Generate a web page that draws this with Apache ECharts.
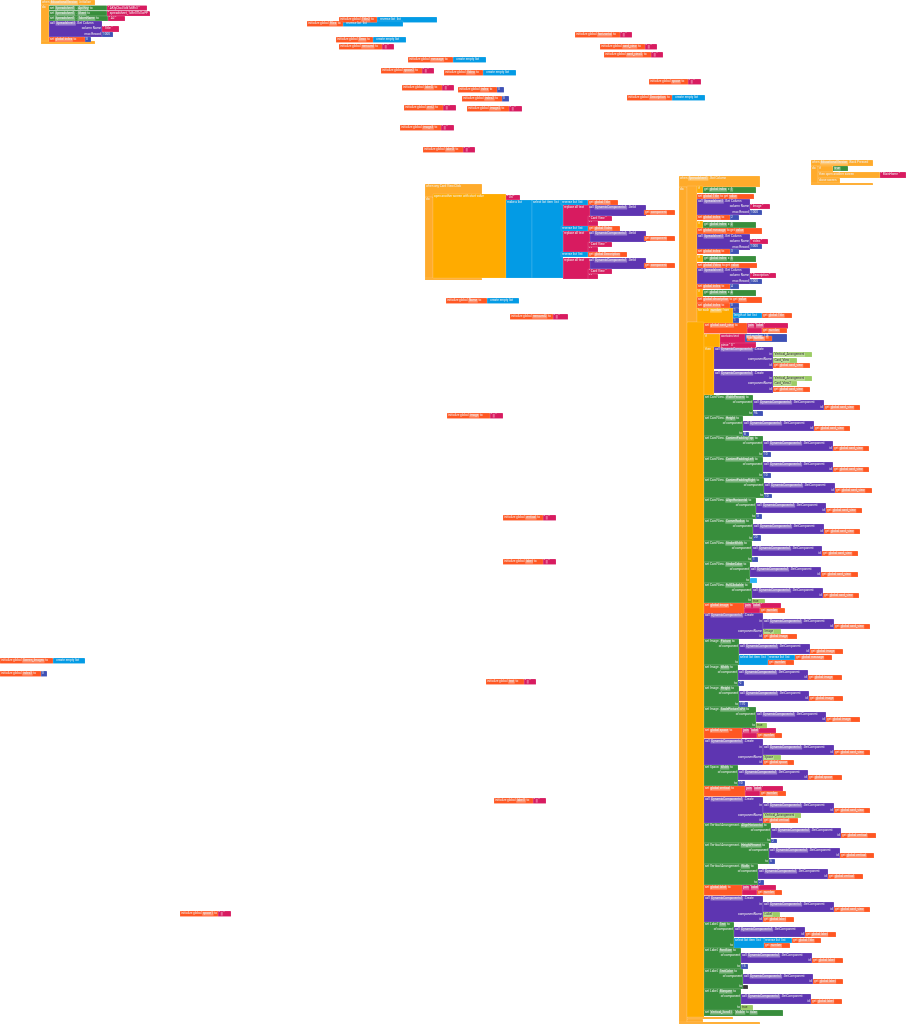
<!DOCTYPE html>
<html><head><meta charset="utf-8">
<style>html,body{margin:0;padding:0;background:#fff}#c{width:906px;height:1024px}</style>
<script src="https://cdn.jsdelivr.net/npm/echarts@6/dist/echarts.min.js"></script>
</head><body><div id="c"></div>
<script>
// Each init row: name, left, split, right, top, kind of value block
const initRows = [
 ["Title2",339,377,437,17,"list"],["Files",307,343,403,21,"list"],["Desc",336,373,406,37,"empty"],
 ["removed",339,382,394,44,"text"],["message",408,453,486,57,"empty"],["space2",381,422,434,68,"text"],
 ["Video",444,483,516,70,"empty"],["label2",402,442,454,85,"text"],["index",458,497,504,87,"num"],
 ["index2",462,502,509,96,"num"],["vert2",404,443,456,105,"text"],["image2",467,509,522,106,"text"],
 ["image3",400,441,454,125,"text"],["label3",423,463,475,147,"text"],["horizontal",575,620,632,32,"text"],
 ["card_view",600,645,657,44,"text"],["card_view2",604,651,663,52,"text"],["space",649,688,701,79,"text"],
 ["Description",627,672,705,95,"empty"],["Name",446,487,519,298,"empty"],["removed2",510,553,568,314,"text"],
 ["image",447,490,503,413,"text"],["vertical",503,543,556,515,"text"],["label",503,543,556,559,"text"],
 ["text",486,524,536,679,"text"],["label1",494,533,546,798,"text"],["space1",180,218,231,911,"text"],
 ["Screen_Images",0,53,85,658,"empty"],["index3",0,41,47,671,"num"]
];
// Card property setters: text, top, bottom, green right, purple right, get right, end kind, end right, end text, get name
const cards = [
 ["Card View. {f|WidthPercent}",395,416,753,824,860,"indigo",763,"96","global card_view"],
 ["Card View. {f|Height}",416,436,743,814,850,"indigo",749,"8","global card_view"],
 ["Card View. {f|ContentPaddingTop}",436,457,763,833,869,"indigo",771,"10","global card_view"],
 ["Card View. {f|ContentPaddingLeft}",457,478,763,833,869,"indigo",771,"10","global card_view"],
 ["Card View. {f|ContentPaddingRight}",478,498,764,835,872,"indigo",772,"10","global card_view"],
 ["Card View. {f|AlignHorizontal}",498,519,756,826,862,"indigo",762,"3","global card_view"],
 ["Card View. {f|CornerRadius}",519,541,753,824,860,"indigo",761,"20","global card_view"],
 ["Card View. {f|StrokeWidth}",541,562,752,822,858,"indigo",758,"1","global card_view"],
 ["Card View. {f|StrokeColor}",562,583,750,821,858,"sky",757,"","global card_view"],
 ["Card View. {f|FullClickable}",583,603,752,823,859,"lime",765,"true","global card_view"],
 ["Image. {f|Picture}",639,665,739,810,843,"blue",768,"select list item  list","global image"],
 ["Image. {f|Width}",665,686,738,808,842,"indigo",744,"-2","global image"],
 ["Image. {f|Height}",686,707,739,809,843,"indigo",748,"170","global image"],
 ["Image. {f|ScalePictureToFit}",707,728,756,826,860,"lime",767,"true","global image"],
 ["Space. {f|Width}",765,786,738,808,842,"indigo",745,"10","global space"],
 ["Vertical Arrangement. {f|AlignHorizontal}",823,843,771,841,876,"indigo",777,"2","global vertical"],
 ["Vertical Arrangement. {f|HeightPercent}",843,864,769,840,874,"indigo",775,"5","global vertical"],
 ["Vertical Arrangement. {f|Width}",864,885,758,828,863,"indigo",764,"2","global vertical"],
 ["Label. {f|Text}",922,948,734,805,836,"blue",764,"select list item  list","global label"],
 ["Label. {f|FontSize}",948,969,741,812,843,"indigo",748,"15","global label"],
 ["Label. {f|TextColor}",969,989,743,813,843,"ink",748,"","global label"],
 ["Label. {f|Marquee}",989,1010,741,811,842,"lime",753,"true","global label"]
];
// Dynamic create calls: component, top, lime right, get right, get name
const creates = [
 ["Image",613,781,797,"global image"],["Space",739,781,794,"global space"],
 ["Vertical_Arrangement",797,801,798,"global vertical"],["Label",896,780,794,"global label"]
];
// set global name to join: name, top, orange right, pink right, get left, get right
const joinSets = [
 ["global card_view",323,747,788,762,787],["global image",603,744,781,760,785],["global space",728,742,776,757,782],
 ["global vertical",786,745,783,760,786],["global label",885,742,776,757,782]
];
const amberBlocks = [
 [41,0,95,5,"when {f|EducationalVersion} .Initialize"],[41,5,49,44,"do"],[41,41,95,44],
 [425,184,482,197,"when any Card View.Click"],[425,197,433,280,"do"],[425,278,482,280],
 [679,176,760,187,"when {f|Spreadsheet1} .Got Column"],[679,187,687,1024,"do"],[687,186,697,322],[687,1017,733,1019],[687,1019,703,1022],[679,1022,760,1024],
 [811,160,873,166,"when {f|EducationalVersion} .Back Pressed"],[811,166,818,185,"do"],[818,166,833,172,"if"],[818,172,880,178,"then open another screen"],[818,178,840,183,"close screen"],[811,183,873,185]
];
const goldBlocks = [
 [433,194,506,278,"open another screen with start value"],
 [697,186,703,193,"if"],[697,221,703,228,"if"],[697,255,703,262,"if"],[697,289,703,297,"if"],
 [697,308,733,325,"for each {f|number} from"],[687,322,704,1017],
 [704,334,720,348,"if"],[704,347,714,395,"then"]
];
const greenBlocks = [
 [49,5.5,107,10.5,"set {f|Spreadsheet1} . {f|Api Key} to"],[49,11,107,16,"set {f|Spreadsheet1} . {f|Sheet} to"],[49,16,108,21,"set {f|Spreadsheet1} . {f|TokenName} to"],
 [703,187,756,193,"get {f|global index} = {f|1}"],[703,222,756,228,"get {f|global index} = {f|2}"],[703,256,756,262,"get {f|global index} = {f|3}"],[703,290,756,296,"get {f|global index} = {f|4}"],
 [833,166,848,171,"{f|true}"],
 [704,1010,783,1016,"set {f|Vertical_Scroll1} . {f|Visible} to {f|false}"]
];
const purpleBlocks = [
 [49,21,102,37,"call {f|Spreadsheet1} .Get Column"],
 [697,199,750,215,"call {f|Spreadsheet1} .Get Column"],[697,234,750,250,"call {f|Spreadsheet1} .Get Column"],[697,268,750,284,"call {f|Spreadsheet1} .Get Column"],
 [714,347,773,369,"call {f|DynamicComponents1} .Create"],[714,371,773,393,"call {f|DynamicComponents1} .Create"],
 [588,205,646,216,"call {f|DynamicComponents1} .GetId"],[588,231,646,242,"call {f|DynamicComponents1} .GetId"],[588,258,646,269,"call {f|DynamicComponents1} .GetId"]
];
const pinkBlocks = [
 [107,5.5,147,10.5,"\" AKfyCbzJ5dkTzMh3 \""],[107,11,150,16,"\" spreadsheet_1a9e0TkXwFP \""],[108,16,125,21,"\" A2 \""],[102,26,119,32,"\" Title \""],
 [506,195,520,200,"\" Url \""],
 [563,205,590,227,"replace all text"],[588,216,612,221,"\" Card View \""],[588,221,598,226,"\" \""],
 [563,231,590,253,"replace all text"],[588,242,612,247,"\" Card View \""],[588,247,598,252,"\" \""],
 [563,258,590,279,"replace all text"],[588,269,612,274,"\" Card View \""],[588,274,598,279,"\" \""],
 [750,204,770,209,"\" Image \""],[750,239,768,244,"\" video \""],[750,273,776,278,"\" Description \""],
 [880,172,906,178,"\" MainHome \""],[720,334,756,348,"contains text"],[720,343,756,348,"piece \" 0 \""]
];
const blueBlocks = [
 [506,200,532,278,"make a list"],[532,200,563,278,"select list item  list"],
 [561,200,588,205,"reverse list  list"],[561,226,588,231,"reverse list  list"],[561,252,588,257,"reverse list  list"],
 [733,313,762,318,"length of list  list"],[768,655,795,660,"reverse list  list"],[764,938,792,943,"reverse list  list"]
];
const indigoBlocks = [
 [102,32,113,37,"1000"],[85,37,91,42,"0"],[750,210,762,215,"1000"],[750,244,762,249,"1000"],[750,279,762,284,"1000"],
 [730,215,739,220,"2"],[730,249,739,254,"3"],[730,284,739,289,"4"],[730,303,739,308,"0"],[733,308,739,313,"1"],[733,318,739,323,"1"],
 [745,334,787,342,"{f|get number} / {f|2}"]
];
const orangeBlocks = [
 [49,37,85,42,"set {f|global index} to"],
 [697,194,754,199,"set {f|global Title} to get {f|value}"],[697,215,730,220,"set {f|global index} to"],
 [697,228,762,234,"set {f|global message} to get {f|value}"],[697,249,730,254,"set {f|global index} to"],
 [697,263,757,268,"set {f|global Video} to get {f|value}"],[697,284,730,289,"set {f|global index} to"],
 [697,297,762,303,"set {f|global description} to get {f|value}"],[697,303,730,308,"set {f|global index} to"],
 [762,313,792,318,"get {f|global Title}"],[747,336,772,341,"get {f|number}"],
 [588,200,618,205,"get {f|global Title}"],[588,226,620,231,"get {f|global Video}"],[588,252,627,257,"get {f|global Description}"],
 [644,210,675,215,"get {f|component}"],[644,236,675,241,"get {f|component}"],[644,263,675,268,"get {f|component}"],
 [773,363,810,368,"get {f|global card_view}"],[773,387,810,392,"get {f|global card_view}"],
 [795,655,832,660,"get {f|global message}"],[768,660,794,665,"get {f|number}"],
 [792,938,821,943,"get {f|global Title}"],[764,943,790,948,"get {f|number}"]
];
const limeBlocks = [
 [773,352,812,357,"{f|Vertical_Arrangement}"],[773,358,797,363,"{f|Card_View}"],
 [773,376,812,381,"{f|Vertical_Arrangement}"],[773,381,797,386,"{f|Card_View2}"]
];
const skyBlocks = [];
const inkBlocks = [];

const groups = {amber:amberBlocks,gold:goldBlocks,green:greenBlocks,purple:purpleBlocks,pink:pinkBlocks,blue:blueBlocks,indigo:indigoBlocks,orange:orangeBlocks,lime:limeBlocks,sky:skyBlocks,ink:inkBlocks};
const notes = [];
const note = (x,y,t,a)=>notes.push([x,y,t,a||'left']);

initRows.forEach(r=>{
  const [n,a,b,c,y,k]=r;
  orangeBlocks.push([a,y,b,y+5.5,`initialize global {f|${n}} to`]);
  if(k==='text') pinkBlocks.push([b,y,c,y+5.5,'" {f| } "']);
  else if(k==='num') indigoBlocks.push([b,y,c,y+5.5,'0']);
  else if(k==='empty') blueBlocks.push([b,y,c,y+5.5,'   create empty list']);
  else blueBlocks.push([b,y,c,y+5.5,'   reverse list  list']);
});
cards.forEach(r=>{
  const [t,y0,y1,g,p,o,k,e,et,n]=r;
  greenBlocks.push([704,y0,g,y1,'set '+t+' to']);
  purpleBlocks.push([g,y0+5,p,y0+15,'call {f|DynamicComponents1} .GetComponent']);
  orangeBlocks.push([p,y0+10,o,y0+15,`get {f|${n}}`]);
  groups[k].push([g,y0+16,e,y1,et]);
  note(g-1,y0+7.7,'of component','right'); note(g-1,y1-2.5,'to','right'); note(p-1,y0+12.7,'id','right');
});
creates.forEach(r=>{
  const [n,y,l,g,id]=r;
  purpleBlocks.push([704,y,763,y+26,'call {f|DynamicComponents1} .Create']);
  purpleBlocks.push([763,y+6,834,y+16,'call {f|DynamicComponents1} .GetComponent']);
  orangeBlocks.push([834,y+11,870,y+16,'get {f|global card_view}']);
  limeBlocks.push([763,y+16,l,y+21,`{f|${n}}`]);
  orangeBlocks.push([763,y+21,g,y+26,`get {f|${id}}`]);
  note(762,y+8.7,'in','right'); note(762,y+18.7,'componentName','right'); note(762,y+23.7,'id','right'); note(833,y+13.7,'id','right');
});
joinSets.forEach(r=>{
  const [n,y,o,p,a,b]=r;
  orangeBlocks.push([704,y,o,y+10.5,`set {f|${n}} to`]);
  pinkBlocks.push([o,y,p,y+5.5,'{f|join} "{f|label}"']);
  pinkBlocks.push([o,y+5,a,y+10]);
  orangeBlocks.push([a,y+5,b,y+10,'get {f|number}']);
});
[[49,102,26],[697,750,204],[697,750,239],[697,750,273]].forEach(r=>{note(r[1]-1,r[2]+2.7,'column Name','right');note(r[1]-1,r[2]+8.2,'max Record','right');});
[[714,773,347],[714,773,371]].forEach(r=>{note(r[1]-1,r[2]+7.7,'in','right');note(r[1]-1,r[2]+12.7,'componentName','right');note(r[1]-1,r[2]+18.7,'id','right');});

const palette = {amber:'#ffab2b',gold:'#ffab00',green:'#388e3c',purple:'#5e35b1',pink:'#d81b60',blue:'#039be5',indigo:'#3f51b5',orange:'#ff5722',lime:'#9ccc65',sky:'#29b6f6',ink:'#3a3a3a'};
const order = ['amber','gold','green','purple','pink','blue','indigo','orange','lime','sky','ink'];
const rich = {f:{backgroundColor:'rgba(255,255,255,0.34)',color:'#3a3a3a',fontSize:3.1,fontFamily:'Roboto',padding:[0.4,0.6]}};
const chart = echarts.init(document.getElementById('c'),null,{renderer:'canvas'});
const blockSeries = order.map(k=>({
  type:'custom',name:k,silent:true,animation:false,clip:false,coordinateSystem:'cartesian2d',
  data:groups[k].map(r=>r.slice(0,4)),encode:{x:[0,2],y:[1,3]},
  renderItem(params,api){
    const a=api.coord([api.value(0),api.value(1)]),b=api.coord([api.value(2),api.value(3)]);
    return {type:'rect',shape:{x:a[0],y:a[1],width:b[0]-a[0],height:b[1]-a[1],r:0.6},
      style:{fill:palette[k],stroke:'rgba(255,255,255,0.28)',lineWidth:0.5}};
  }
}));
const allText = [];
order.forEach(k=>groups[k].forEach(r=>{if(r[4]) allText.push([r[0]+1,r[1]+2.7,r[4],'left',k==='lime'?'#333':'#f0f0f0']);}));
notes.forEach(n=>allText.push([n[0],n[1],n[2],n[3],'#f0f0f0']));
const textSeries = {
  type:'custom',name:'text',silent:true,animation:false,clip:false,z:10,
  data:allText.map(t=>[t[0],t[1]]),encode:{x:0,y:1},
  renderItem(params,api){
    const t=allText[params.dataIndex],p=api.coord([api.value(0),api.value(1)]);
    return {type:'text',x:p[0],y:p[1],style:{text:t[2],fill:t[4],font:'3.1px Roboto',align:t[3],verticalAlign:'middle',rich}};
  }
};
chart.setOption({
  animation:false,backgroundColor:'#fff',
  grid:{left:0,right:0,top:0,bottom:0},
  xAxis:{type:'value',min:0,max:906,show:false},
  yAxis:{type:'value',min:0,max:1024,inverse:true,show:false},
  series:[...blockSeries,textSeries]
});
</script></body></html>
